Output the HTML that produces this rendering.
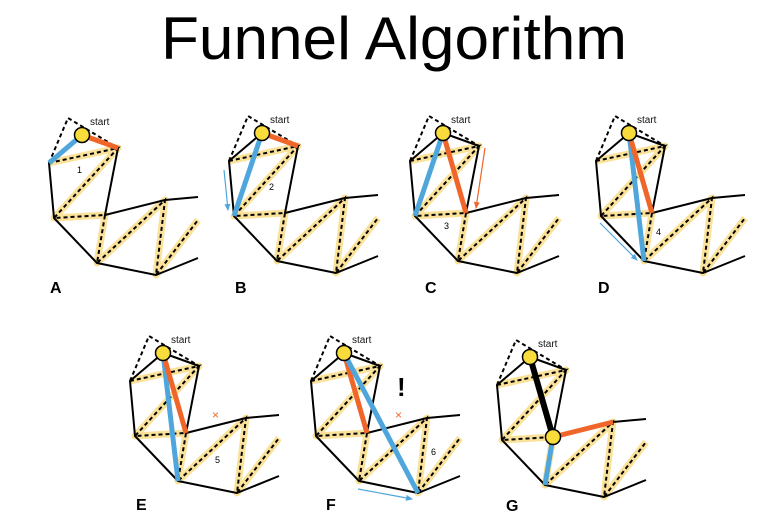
<!DOCTYPE html>
<html><head><meta charset="utf-8"><style>
html,body{margin:0;padding:0;background:#fff;}
svg{display:block;}
</style></head><body>
<svg width="774" height="530" viewBox="0 0 774 530" xmlns="http://www.w3.org/2000/svg" font-family="Liberation Sans, sans-serif">
<defs>
<marker id="ab" markerWidth="8" markerHeight="8" refX="6" refY="3" orient="auto" markerUnits="userSpaceOnUse"><path d="M0,0 L7,3 L0,6 z" fill="#4ea6dc"/></marker>
<marker id="ao" markerWidth="8" markerHeight="8" refX="6" refY="3" orient="auto" markerUnits="userSpaceOnUse"><path d="M0,0 L7,3 L0,6 z" fill="#f0662a"/></marker>
<g id="mesh">
 <g stroke="#fbe29a" stroke-width="7" stroke-linecap="butt" stroke-linejoin="round" fill="none">
  <polyline points="49,163 118,148 54,218 105,215 97,263 165,200 156,275 198,220"/>
 </g>
 <g stroke="#000" stroke-width="2" fill="none" stroke-linejoin="round">
  <polyline points="82,135 49,163 54,218 97,263 156,275 198,258"/>
  <polyline points="82,135 118,148 105,215 165,200 198,197"/>
 </g>
 <g stroke="#000" stroke-width="2" stroke-dasharray="4,3" fill="none">
  <polyline points="49,163 68,118 118,148"/>
  <polyline points="49,163 118,148 54,218 105,215 97,263 165,200 156,275 198,220"/>
 </g>
 <text x="90" y="125" font-size="10" fill="#111">start</text>
</g>
<g id="sc"><circle cx="82" cy="135" r="7.5" fill="#f7dc3c" stroke="#000" stroke-width="1.5"/></g>
</defs>

<text x="394" y="59" font-size="60" text-anchor="middle" fill="#000" textLength="466" lengthAdjust="spacingAndGlyphs">Funnel Algorithm</text>

<!-- A -->
<g>
 <use href="#mesh"/>
 <line x1="82" y1="135" x2="49" y2="163" stroke="#4ea6dc" stroke-width="5"/>
 <line x1="82" y1="135" x2="118" y2="148" stroke="#f0662a" stroke-width="5"/>
 <use href="#sc"/>
 <text x="77" y="173" font-size="9">1</text>
 <text x="50" y="293" font-size="16" font-weight="bold">A</text>
</g>
<!-- B -->
<g transform="translate(180,-2)">
 <use href="#mesh"/>
 <line x1="82" y1="135" x2="54" y2="218" stroke="#4ea6dc" stroke-width="5"/>
 <line x1="82" y1="135" x2="118" y2="148" stroke="#f0662a" stroke-width="5"/>
 <line x1="44" y1="172" x2="48" y2="212" stroke="#4ea6dc" stroke-width="1.2" marker-end="url(#ab)"/>
 <use href="#sc"/>
 <text x="89" y="192" font-size="9">2</text>
 <text x="55" y="295" font-size="16" font-weight="bold">B</text>
</g>
<!-- C -->
<g transform="translate(361,-2)">
 <use href="#mesh"/>
 <line x1="82" y1="135" x2="54" y2="218" stroke="#4ea6dc" stroke-width="5"/>
 <line x1="82" y1="135" x2="105" y2="215" stroke="#f0662a" stroke-width="5"/>
 <line x1="124" y1="150" x2="115" y2="210" stroke="#f0662a" stroke-width="1.2" marker-end="url(#ao)"/>
 <use href="#sc"/>
 <text x="83" y="231" font-size="9">3</text>
 <text x="64" y="295" font-size="16" font-weight="bold">C</text>
</g>
<!-- D -->
<g transform="translate(547,-2)">
 <use href="#mesh"/>
 <line x1="82" y1="135" x2="97" y2="263" stroke="#4ea6dc" stroke-width="5"/>
 <line x1="82" y1="135" x2="105" y2="215" stroke="#f0662a" stroke-width="5"/>
 <line x1="53" y1="225" x2="90" y2="262" stroke="#4ea6dc" stroke-width="1.2" marker-end="url(#ab)"/>
 <use href="#sc"/>
 <text x="109" y="237" font-size="9">4</text>
 <text x="51" y="295" font-size="16" font-weight="bold">D</text>
</g>
<!-- E -->
<g transform="translate(81,218)">
 <use href="#mesh"/>
 <line x1="82" y1="135" x2="97" y2="263" stroke="#4ea6dc" stroke-width="5"/>
 <line x1="82" y1="135" x2="105" y2="215" stroke="#f0662a" stroke-width="5"/>
 <use href="#sc"/>
 <text x="131" y="201" font-size="12" fill="#f0662a">×</text>
 <text x="134" y="245" font-size="9">5</text>
 <text x="55" y="292" font-size="16" font-weight="bold">E</text>
</g>
<!-- F -->
<g transform="translate(262,218)">
 <use href="#mesh"/>
 <line x1="82" y1="135" x2="105" y2="215" stroke="#f0662a" stroke-width="5"/>
 <line x1="82" y1="135" x2="156" y2="275" stroke="#4ea6dc" stroke-width="5"/>
 <line x1="96" y1="271" x2="150" y2="281" stroke="#4ea6dc" stroke-width="1.2" marker-end="url(#ab)"/>
 <use href="#sc"/>
 <text x="133" y="201" font-size="12" fill="#f0662a">×</text>
 <text x="135" y="178" font-size="26" font-weight="bold">!</text>
 <text x="169" y="237" font-size="9">6</text>
 <text x="64" y="292" font-size="16" font-weight="bold">F</text>
</g>
<!-- G -->
<g transform="translate(448,222)">
 <use href="#mesh"/>
 <line x1="82" y1="135" x2="105" y2="215" stroke="#000" stroke-width="6"/>
 <line x1="105" y1="215" x2="165" y2="200" stroke="#f0662a" stroke-width="5"/>
 <line x1="105" y1="215" x2="97" y2="263" stroke="#4ea6dc" stroke-width="5"/>
 <use href="#sc"/>
 <circle cx="105" cy="215" r="7.5" fill="#f7dc3c" stroke="#000" stroke-width="1.5"/>
 <text x="58" y="289" font-size="16" font-weight="bold">G</text>
</g>
</svg>
</body></html>
